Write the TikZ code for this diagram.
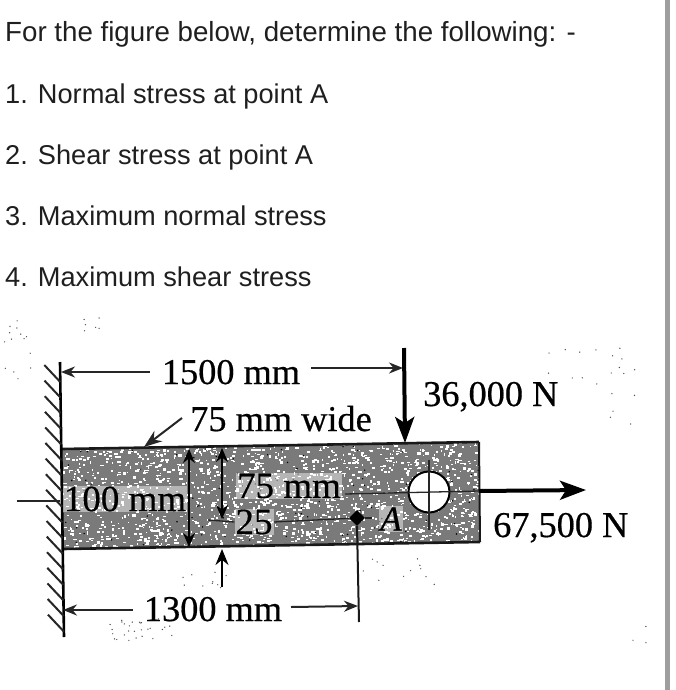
\documentclass[tikz,border=0pt]{standalone}
\usepackage{fontspec}
\setmainfont{Liberation Sans}
\newfontfamily\dimfont[FakeBold=0.5]{Liberation Serif}
\usetikzlibrary{arrows.meta,shapes.geometric}
\pgfmathsetseed{4217}
\tikzset{
  x=1pt,y=-1pt,
  qtext/.style={anchor=base west,inner sep=0pt,font=\fontsize{27.2}{30}\selectfont,text=black!88},
  dimtext/.style={inner sep=0pt,anchor=base,font=\dimfont\fontsize{36.3}{40}\selectfont,text=black},
  beamtext/.style={inner sep=1pt,fill=white,fill opacity=0.45,text opacity=1,font=\dimfont\fontsize{37}{40}\selectfont,text=black},
  thin line/.style={line width=1.3pt,black!85},
  dimline/.style={line width=2pt,black!85,-{Stealth[length=14pt,width=11pt]}},
  force/.style={line width=4pt,black,-{Stealth[length=26pt,width=19pt,inset=6pt]}},
  double dim/.style={line width=1.5pt,black,{Stealth[length=14pt,width=12pt]}-{Stealth[length=14pt,width=12pt]}},
  edge line/.style={line width=2.6pt,black!90},
  noise/.style={fill=black!70},
}
\begin{document}
\begin{tikzpicture}
\useasboundingbox (0,0) rectangle (675,690);
\fill[white] (0,0) rectangle (675,690);
\fill[black!38] (665,0) rectangle (670,690);
% question text
\node[qtext,font=\fontsize{27.7}{30}\selectfont] (q0) at (5,42) {For the figure below, determine the following: -};
\node[qtext] (q1) at (5,103) {1. Normal stress at point A};
\node[qtext] (q2) at (5,164) {2. Shear stress at point A};
\node[qtext] (q3) at (5,225) {3. Maximum normal stress};
\node[qtext] (q4) at (5,286) {4. Maximum shear stress};
% scan noise
\foreach \cx/\cy/\rx/\ry/\n in {18/350/14/30/14, 90/325/10/8/6, 140/630/32/12/28, 205/580/22/10/10, 395/570/40/15/12, 585/365/45/20/12, 625/400/15/35/8, 640/635/8/10/3}{
  \foreach \i in {1,...,\n}{
    \pgfmathsetmacro{\px}{\cx+\rx*rand}
    \pgfmathsetmacro{\py}{\cy+\ry*rand}
    \fill[noise] (\px,\py) circle (0.7);
  }
}
% beam
\coordinate (tl) at (62,449);
\coordinate (tr) at (479,442);
\coordinate (br) at (480,542);
\coordinate (bl) at (63,549);
\fill[black!52] (tl) -- (tr) -- (br) -- (bl) -- cycle;
\begin{scope}
\clip (tl) -- (tr) -- (br) -- (bl) -- cycle;
\foreach \i in {1,...,1700}{
  \pgfmathsetmacro{\px}{62+418*rnd}
  \pgfmathsetmacro{\py}{441+109*rnd}
  \pgfmathsetmacro{\pw}{1+2.6*rnd}
  \pgfmathsetmacro{\ph}{1+1.6*rnd}
  \fill[white] (\px,\py) rectangle ++(\pw,\ph);
}
\foreach \i in {1,...,110}{
  \pgfmathsetmacro{\px}{62+418*rnd}
  \pgfmathsetmacro{\py}{441+109*rnd}
  \fill[black] (\px,\py) circle (0.8);
}
\end{scope}
\draw[edge line] (tl) -- (tr);
\draw[line width=2pt,black!90] (tr) -- (br);
\draw[edge line] (br) -- (bl);
% wall
\coordinate (w0) at (60,362);
\coordinate (w1) at (64,637);
\draw[line width=2.6pt,black] (w0) -- (w1);
\foreach \k in {0,...,16}{
  \pgfmathsetmacro{\yy}{382+\k*15.6}
  \pgfmathsetmacro{\xx}{60+(\yy-362)*4/275}
  \draw[line width=2pt,black!85] (\xx,\yy) -- ++(-16,-17);
}
\coordinate (ctrL) at (17,501);
\coordinate (ctrW) at (60,501);
\draw[thin line] (ctrL) -- (ctrW);
% 1500 mm
\coordinate (load) at (404,348);
\coordinate (loadend) at (405,443);
\node[dimtext] (d1500) at (231,384) {1500 mm};
\coordinate (w1500) at (61,372);
\coordinate (l1500) at (403,368);
\coordinate (s1500l) at (150,372);
\coordinate (s1500r) at (311,368);
\draw[dimline] (s1500l) -- (w1500);
\draw[dimline] (s1500r) -- (l1500);
\draw[force] (load) -- (loadend);
\node[dimtext,anchor=base west] (d36) at (423,406) {36,000 N};
% 75 mm wide
\node[dimtext] (d75w) at (281,431) {75 mm wide};
\coordinate (wt) at (144,447);
\coordinate (ws) at (182,418);
\draw[line width=2pt,black!85,-{Stealth[length=18pt,width=13pt]}] (ws) -- (wt);
% centre line and force
\coordinate (cc) at (429,492);
\node[draw=black,line width=2pt,fill=white,circle,minimum size=41pt,inner sep=0pt] (hole) at (cc) {};
\coordinate (clL) at (345,494);
\coordinate (clR) at (479,491);
\coordinate (vt) at (429,460);
\coordinate (vb) at (429,530);
\coordinate (fend) at (586,490);
\draw[thin line] (clL) -- (clR);
\draw[thin line] (vt) -- (vb);
\draw[force] (clR) -- (fend);
\node[dimtext,anchor=base west] (d675) at (493,537) {67,500 N};
% inside dims
\node[beamtext] (d100) at (125,499) {100 mm};
\coordinate (a100t) at (189,449);
\coordinate (a100b) at (189,547);
\draw[double dim] (a100t) -- (a100b);
\coordinate (a75t) at (222,448);
\coordinate (a75b) at (222,519);
\draw[double dim] (a75t) -- (a75b);
\node[beamtext] (d75) at (289,486) {75 mm};
\node[beamtext] (d25) at (254,522) {25};
\coordinate (e25) at (208,520);
\draw[thin line] (e25) -- (d25.west);
% point A
\node[fill=black,diamond,inner sep=0pt,minimum size=16pt] (ptA) at (357,518) {};
\draw[thin line] (d25.east) -- (ptA);
\coordinate (aR) at (372,518);
\draw[thin line] (ptA) -- (aR);
\node[beamtext,font=\dimfont\itshape\fontsize{35}{38}\selectfont] (lblA) at (391,519) {A};
\coordinate (dropT) at (357,526);
\coordinate (dropB) at (359,622);
\draw[line width=2pt,black!90] (dropT) -- (dropB);
% bottom dims
\coordinate (upS) at (222,587);
\coordinate (upE) at (222,549);
\draw[line width=2pt,black,-{Stealth[length=16pt,width=13pt]}] (upS) -- (upE);
\node[dimtext] (d1300) at (213,621) {1300 mm};
\coordinate (w1300) at (63,610);
\coordinate (e1300) at (358,606);
\coordinate (s1300l) at (133,610);
\coordinate (s1300r) at (291,607);
\draw[dimline] (s1300l) -- (w1300);
\draw[dimline] (s1300r) -- (e1300);
\end{tikzpicture}
\end{document}
